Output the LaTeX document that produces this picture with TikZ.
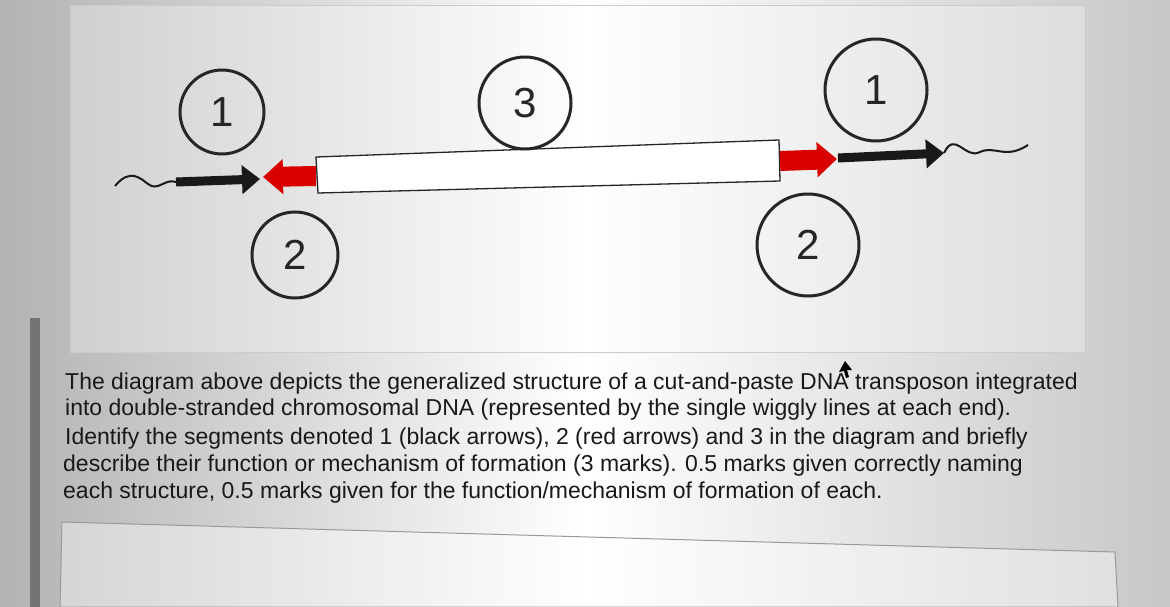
\documentclass[tikz,border=0pt]{standalone}
\usepackage{fontspec}
\setmainfont{Liberation Sans}
\usetikzlibrary{arrows.meta,decorations.pathmorphing}
\begin{document}
\begin{tikzpicture}[x=1pt,y=-1pt,
  lbl/.style={draw=black!85,line width=3pt,circle,font=\fontsize{42}{42}\selectfont,text=black!85},
  txt/.style={anchor=west,inner sep=0pt,font=\fontsize{23}{26}\selectfont,text=black!90},
  redarr/.style={-{Triangle[length=20pt,width=34pt]},line width=20pt,red!85!black},
  blkarr/.style={-{Triangle[length=18pt,width=28pt]},line width=9pt,black!90},
  wig/.style={line width=2pt,black!90}]
\useasboundingbox (0,0) rectangle (1170,607);
\shade[left color=black!30,right color=black!22,middle color=white] (0,0) rectangle (1170,607);
\fill[white,opacity=0.3] (70,5) rectangle (1085,352);
\draw[black!20] (70,5) rectangle (1085,352);
\fill[black!55] (30,318) rectangle (40,607);
\draw[black!40,line width=1pt,fill=white,fill opacity=0.4] (62,522) -- (1115,552) -- (1118,607) -- (60,607) -- cycle;
% transposon body
\draw[black!85,line width=1.3pt,fill=white] (316,157) -- (779,140) -- (780,181) -- (318,193) -- cycle;
\coordinate (bl) at (316,176); \coordinate (br) at (780,161);
\coordinate (lr) at (263,177); \coordinate (rr) at (837,159);
\draw[redarr] (bl) -- (lr);
\draw[redarr] (br) -- (rr);
\coordinate (lb1) at (176,182); \coordinate (lb2) at (260,179);
\coordinate (rb1) at (838,158); \coordinate (rb2) at (944,153);
\draw[blkarr] (lb1) -- (lb2);
\draw[blkarr] (rb1) -- (rb2);
\draw[wig] (115,186) .. controls (130,168) and (140,178) .. (148,184) .. controls (158,192) and (165,178) .. (lb1);
\draw[wig] (rb2) .. controls (955,130) and (965,160) .. (980,152) .. controls (995,145) and (1005,160) .. (1028,145);
\node[lbl,minimum size=84pt] (c1) at (222,112) {1};
\node[lbl,minimum size=92pt] (c3) at (525,103) {3};
\node[lbl,minimum size=102pt] (c1b) at (876,90) {1};
\node[lbl,minimum size=86pt] (c2) at (295,255) {2};
\node[lbl,minimum size=102pt] (c2b) at (808,245) {2};
\node[txt] (t1) at (65,384) {The diagram above depicts the generalized structure of a cut-and-paste DNA transposon integrated};
\node[txt] (t2) at (65,410) {into double-stranded chromosomal DNA (represented by the single wiggly lines at each end).};
\node[txt] (t3) at (65,439) {Identify the segments denoted 1 (black arrows), 2 (red arrows) and 3 in the diagram and briefly};
\node[txt] (t4) at (63,466) {describe their function or mechanism of formation (3 marks). 0.5 marks given correctly naming};
\node[txt] (t5) at (63,493) {each structure, 0.5 marks given for the function/mechanism of formation of each.};
\fill[black] (845,361) -- (839,372) -- (844,371) -- (846,378) -- (849,377) -- (847,370) -- (852,370) -- cycle;
\end{tikzpicture}
\end{document}
